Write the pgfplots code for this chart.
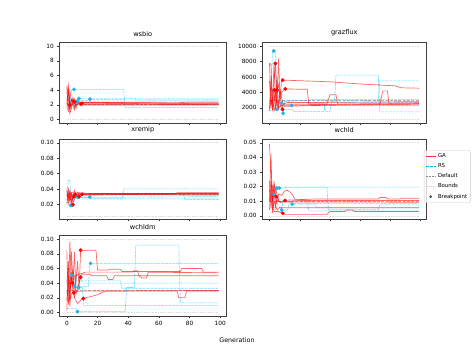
\documentclass[border=0pt]{standalone}
\usepackage{fontspec}
\setmainfont{DejaVu Sans}
\usepackage{pgfplots}
\pgfplotsset{compat=1.18}
\definecolor{rsc}{RGB}{0,191,255}
\definecolor{rsdot}{RGB}{30,180,230}
\pgfplotsset{
  panel/.style={scale only axis, width=167bp, height=80.4bp,
    xmin=-4.95, xmax=103.95, xtick={0,20,40,60,80,100}, xticklabels={},
    scaled ticks=false, tick pos=left, tick align=outside,
    major tick length=2bp, tick style={black!80, line width=0.4bp},
    axis line style={black!75, line width=0.45bp},
    ticklabel style={font=\fontsize{5.8}{6}\selectfont},
    /pgf/number format/assume math mode=true,
    title style={font=\fontsize{6.6}{7}\selectfont, yshift=-3.2bp},
    legend image code/.code={\draw[mark repeat=2,mark phase=2,##1] plot coordinates {(0bp,0bp) (5bp,0bp) (10bp,0bp)};}},
  ga/.style={red, draw opacity=0.6, line width=0.7bp, no markers, forget plot},
  rs/.style={rsc, draw opacity=0.55, line width=0.6bp, no markers, dash pattern=on 3bp off 0.8bp, forget plot},
  dflt/.style={black!45, draw opacity=0.7, line width=0.6bp, no markers, dash pattern=on 3bp off 1.3bp, forget plot},
  bnd/.style={black!13, line width=0.55bp, no markers, dash pattern=on 1bp off 0.6bp, forget plot},
  gabp/.style={only marks, mark=*, mark size=1.7bp, red, mark options={draw=none, fill=red}, forget plot},
  rsbp/.style={only marks, mark=*, mark size=1.7bp, rsdot, mark options={draw=none, fill=rsdot}, forget plot},
}
\begin{document}
\begin{tikzpicture}
% ---------------- wsbio ----------------
\begin{axis}[panel, at={(59.25bp,232bp)}, anchor=south west, title=wsbio,
  ymin=-0.5, ymax=10.5, ytick={0,2,4,6,8,10}, yticklabels={0,2,4,6,8,10}]
\addplot[bnd] coordinates {(0,0) (99,0)};
\addplot[bnd] coordinates {(0,10) (99,10)};
\addplot[dflt] coordinates {(0,2) (99,2)};
\addplot[rs] coordinates {(0,2.0) (2,2.0) (3,4.1) (37,4.1) (38,1.6) (99,1.6)};
\addplot[rs] coordinates {(0,1.2) (1,1.8) (2,2.4) (6,2.4) (7,2.9) (9,2.9) (10,2.8) (99,2.8)};
\addplot[rs] coordinates {(0,2.2) (4,2.2) (5,1.8) (8,2.6) (15,2.6) (16,2.75) (37,2.75) (38,2.9) (44,2.9) (45,2.65) (99,2.65)};
\addplot[rs] coordinates {(0,1.5) (2,1.5) (3,2.0) (7,2.0) (8,2.1) (99,2.1)};
\addplot[rs] coordinates {(0,3.0) (2,3.0) (3,1.5) (5,1.5) (6,2.5) (12,2.5) (13,2.5) (99,2.5)};
\addplot[ga] coordinates {(0,4.6) (1,1.0) (2,3.8) (3,2.6) (4,2.0) (5,2.8) (6,2.3) (8,2.3) (20,2.3) (60,2.25) (80,2.2) (99,2.2)};
\addplot[ga] coordinates {(0,3.5) (1,4.7) (2,1.2) (3,2.2) (4,1.9) (5,1.3) (6,2.5) (7,2.1) (8,2.2) (10,2.0) (40,2.0) (99,2.05)};
\addplot[ga] coordinates {(0,2.5) (1,3.9) (2,1.8) (3,2.7) (5,2.4) (6,1.5) (7,2.5) (9,2.3) (12,2.35) (30,2.3) (70,2.25) (80,2.35) (99,2.35)};
\addplot[ga] coordinates {(0,1.6) (1,2.8) (2,2.2) (4,3.0) (5,1.7) (7,2.1) (10,2.2) (50,2.15) (99,2.1)};
\addplot[ga] coordinates {(0,2.0) (1,4.2) (2,0.8) (3,1.5) (4,2.4) (6,2.0) (10,1.95) (99,1.95)};
\addplot[rsbp] coordinates {(4.6,4.1) (7.9,2.86) (15.1,2.77) (2.6,1.95) (6.8,2.5)};
\addplot[gabp] coordinates {(4.2,2.5) (9.2,2.1) (2,1.95) (5,2.4) (9.9,2.2)};
\end{axis}
% ---------------- grazflux ----------------
\begin{axis}[panel, at={(262bp,232bp)}, anchor=south west, width=164.6bp, title=grazflux,
  ymin=25, ymax=10475, ytick={2000,4000,6000,8000,10000}, yticklabels={2000,4000,6000,8000,10000}]
\addplot[bnd] coordinates {(0,500) (99,500)};
\addplot[bnd] coordinates {(0,10000) (99,10000)};
\addplot[dflt] coordinates {(0,3000) (99,3000)};
\addplot[rs] coordinates {(0,2500) (1,3800) (2,9400) (4,9400) (5,2800) (10,2800) (30,3100) (99,3100)};
\addplot[rs] coordinates {(0,1600) (4,1600) (5,1800) (15,1800) (16,1500) (36,1500) (37,2800) (43,2800) (44,6240) (72,6240) (73,1480) (99,1480)};
\addplot[rs] coordinates {(0,4500) (2,4500) (3,2200) (8,2600) (20,2600) (36,2600) (37,1500) (40,1500) (41,2700) (99,2700)};
\addplot[rs] coordinates {(0,6000) (1,6000) (2,3000) (8,3000) (9,1300) (10,3000) (72,3000) (73,5500) (99,5500)};
\addplot[rs] coordinates {(0,2000) (6,2000) (7,2300) (15,2300) (99,2300)};
\addplot[ga] coordinates {(0,7700) (1,7700) (2,1700) (3,5500) (4,7700) (5,2500) (6,8400) (7,3000) (8,5600) (9,5600) (30,5450) (40,5380) (62,5070) (83,4860) (87,4600) (99,4550)};
\addplot[ga] coordinates {(0,5500) (1,2000) (2,4400) (3,4300) (4,1700) (5,4300) (6,5000) (7,3000) (8,4000) (10,4450) (25,4400) (26,2500) (38,2500) (40,3700) (44,3700) (45,2500) (99,2550)};
\addplot[ga] coordinates {(0,1600) (1,5800) (2,1800) (3,2600) (4,4400) (5,1900) (6,2800) (7,2600) (8,1800) (9,2500) (12,2700) (35,2700) (99,2800)};
\addplot[ga] coordinates {(0,2000) (1,3000) (2,2400) (3,8000) (4,2800) (5,6000) (6,1800) (7,4300) (9,2400) (15,2400) (50,2450) (73,2450) (75,4200) (78,4200) (79,2600) (99,2650)};
\addplot[ga] coordinates {(0,7800) (1,2300) (2,3200) (3,1600) (5,3000) (6,2000) (8,2300) (10,2200) (30,2300) (60,2400) (99,2450)};
\addplot[rsbp] coordinates {(2.8,9400) (5,1800) (8,2600) (9,1300) (14.6,2300)};
\addplot[gabp] coordinates {(3.9,7760) (5,4300) (3.4,4300) (8.8,5590) (10.5,4460) (8.6,1790)};
\end{axis}
% ---------------- xremip ----------------
\begin{axis}[panel, at={(59.25bp,135.5bp)}, anchor=south west, title=xremip,
  ymin=0.00025, ymax=0.10475, ytick={0.02,0.04,0.06,0.08,0.10}, yticklabels={0.02,0.04,0.06,0.08,0.10}]
\addplot[bnd] coordinates {(0,0.005) (99,0.005)};
\addplot[bnd] coordinates {(0,0.1) (99,0.1)};
\addplot[dflt] coordinates {(0,0.033) (99,0.033)};
\addplot[rs] coordinates {(0,0.035) (1,0.051) (2,0.051) (3,0.022) (4,0.019) (5,0.027) (36,0.027) (37,0.040) (99,0.040)};
\addplot[rs] coordinates {(0,0.030) (2,0.030) (3,0.025) (6,0.032) (15,0.030) (16,0.033) (76,0.033) (77,0.026) (99,0.026)};
\addplot[rs] coordinates {(0,0.022) (3,0.022) (4,0.033) (6,0.033) (7,0.029) (20,0.029) (99,0.030)};
\addplot[rs] coordinates {(0,0.040) (1,0.040) (2,0.024) (5,0.024) (6,0.034) (99,0.034)};
\addplot[rs] coordinates {(0,0.026) (4,0.026) (5,0.031) (8,0.029) (14,0.029) (15,0.0296) (16,0.027) (99,0.027)};
\addplot[ga] coordinates {(0,0.039) (1,0.022) (2,0.036) (3,0.030) (4,0.028) (5,0.038) (6,0.030) (8,0.033) (20,0.034) (60,0.034) (99,0.0345)};
\addplot[ga] coordinates {(0,0.025) (1,0.035) (2,0.030) (3,0.020) (4,0.033) (5,0.032) (7,0.036) (9,0.033) (30,0.033) (70,0.0335) (72,0.035) (99,0.035)};
\addplot[ga] coordinates {(0,0.030) (1,0.040) (2,0.026) (3,0.034) (4,0.022) (6,0.034) (8,0.032) (12,0.033) (99,0.033)};
\addplot[ga] coordinates {(0,0.034) (1,0.028) (2,0.038) (3,0.025) (5,0.031) (7,0.029) (10,0.032) (40,0.0325) (99,0.032)};
\addplot[ga] coordinates {(0,0.020) (1,0.032) (2,0.024) (3,0.035) (4,0.036) (6,0.028) (8,0.035) (15,0.034) (99,0.034)};
\addplot[rsbp] coordinates {(3.5,0.019) (6,0.032) (7.5,0.029) (15,0.0296) (2.4,0.0187)};
\addplot[gabp] coordinates {(4.5,0.030) (5.5,0.033) (8,0.030) (10,0.033) (4,0.0196)};
\end{axis}
% ---------------- wchld ----------------
\begin{axis}[panel, at={(262bp,135.5bp)}, anchor=south west, width=164.6bp, title=wchld,
  ymin=-0.0025, ymax=0.0525, ytick={0,0.01,0.02,0.03,0.04,0.05}, yticklabels={0.00,0.01,0.02,0.03,0.04,0.05},
  legend style={at={(0.984,0.535)}, anchor=west, font=\fontsize{5.4}{6}\selectfont,
    draw=black!20, rounded corners=1.5bp, fill=white, fill opacity=0.8, text opacity=1,
    inner sep=1.2bp, row sep=0.6bp, cells={anchor=west}}, legend cell align=left]
\addplot[bnd] coordinates {(0,0) (99,0)};
\addplot[bnd] coordinates {(0,0.05) (99,0.05)};
\addplot[dflt] coordinates {(0,0.010) (99,0.010)};
\addplot[rs] coordinates {(0,0.010) (2,0.010) (3,0.0148) (4,0.0148) (5,0.019) (6,0.0196) (99,0.0196)};
\addplot[rs] coordinates {(0,0.020) (5,0.020) (6,0.019) (10,0.019) (11,0.0196) (38,0.0196) (39,0.0043) (72,0.0043) (73,0.0075) (99,0.0075)};
\addplot[rs] coordinates {(0,0.006) (7,0.006) (8,0.004) (12,0.004) (13,0.0085) (99,0.0085)};
\addplot[rs] coordinates {(0,0.014) (3,0.014) (4,0.010) (14,0.010) (15,0.008) (30,0.008) (31,0.0055) (99,0.0055)};
\addplot[rs] coordinates {(0,0.002) (8,0.002) (9,0.011) (25,0.011) (26,0.0034) (99,0.0034)};
\addplot[ga] coordinates {(0,0.049) (1,0.030) (2,0.004) (3,0.024) (4,0.013) (5,0.008) (6,0.015) (8,0.014) (10,0.017) (12,0.0175) (15,0.015) (17,0.011) (30,0.0115) (72,0.0115) (73,0.0125) (77,0.0125) (78,0.0115) (86,0.0115) (87,0.012) (99,0.012)};
\addplot[ga] coordinates {(0,0.004) (1,0.024) (2,0.010) (3,0.022) (4,0.006) (5,0.013) (7,0.009) (10,0.010) (20,0.0105) (60,0.0105) (99,0.0105)};
\addplot[ga] coordinates {(0,0.018) (1,0.010) (2,0.020) (3,0.012) (4,0.019) (6,0.010) (8,0.0095) (40,0.0095) (99,0.0093)};
\addplot[ga] coordinates {(0,0.010) (1,0.042) (2,0.002) (3,0.010) (5,0.004) (7,0.006) (9,0.0055) (15,0.0055) (99,0.0055)};
\addplot[ga] coordinates {(0,0.024) (1,0.005) (2,0.016) (3,0.003) (6,0.003) (8,0.002) (9,0.001) (38,0.001) (40,0.003) (50,0.003) (51,0.004) (55,0.004) (56,0.003) (99,0.003)};
\addplot[rsbp] coordinates {(2.8,0.0148) (5,0.019) (6.5,0.019) (8,0.004) (15,0.008)};
\addplot[gabp] coordinates {(4.5,0.0132) (8.8,0.0018) (10.3,0.0105)};
\addlegendimage{red, draw opacity=0.8, line width=0.65bp}
\addlegendentry{GA}
\addlegendimage{rsc, line width=0.6bp, dash pattern=on 3bp off 1.2bp}
\addlegendentry{RS}
\addlegendimage{black!45, line width=0.6bp, dash pattern=on 2bp off 1.2bp}
\addlegendentry{Default}
\addlegendimage{black!22, line width=0.55bp, dash pattern=on 0.9bp off 0.9bp}
\addlegendentry{Bounds}
\addlegendimage{only marks, mark=*, mark size=1bp, black!80}
\addlegendentry{Breakpoint}
\end{axis}
% ---------------- wchldm ----------------
\begin{axis}[panel, at={(59.25bp,39bp)}, anchor=south west, title=wchldm,
  xticklabels={0,20,40,60,80,100},
  ymin=-0.005, ymax=0.105, ytick={0,0.02,0.04,0.06,0.08,0.10}, yticklabels={0.00,0.02,0.04,0.06,0.08,0.10}]
\addplot[bnd] coordinates {(0,0) (99,0)};
\addplot[bnd] coordinates {(0,0.1) (99,0.1)};
\addplot[dflt] coordinates {(0,0.03) (99,0.03)};
\addplot[rs] coordinates {(0,0.040) (2,0.040) (3,0.051) (6,0.051) (7,0.035) (14,0.035) (15,0.067) (99,0.067)};
\addplot[rs] coordinates {(0,0.005) (6,0.005) (7,0.001) (38,0.001) (39,0.034) (44,0.034) (45,0.092) (73,0.092) (74,0.013) (99,0.013)};
\addplot[rs] coordinates {(0,0.060) (2,0.060) (3,0.036) (5,0.036) (6,0.050) (9,0.050) (10,0.040) (99,0.040)};
\addplot[rs] coordinates {(0,0.030) (4,0.030) (5,0.036) (7,0.036) (8,0.034) (10,0.034) (11,0.0096) (99,0.0096)};
\addplot[rs] coordinates {(0,0.050) (1,0.050) (2,0.020) (5,0.020) (6,0.043) (35,0.043) (36,0.033) (99,0.033)};
\addplot[ga] coordinates {(0,0.084) (1,0.010) (2,0.097) (3,0.040) (4,0.060) (5,0.020) (6,0.045) (7,0.070) (8,0.030) (9,0.085) (19,0.085) (20,0.058) (27,0.058) (28,0.059) (35,0.059) (36,0.056) (74,0.056) (75,0.060) (88,0.060) (89,0.055) (99,0.055)};
\addplot[ga] coordinates {(0,0.015) (1,0.050) (2,0.008) (3,0.083) (4,0.040) (5,0.083) (6,0.025) (8,0.040) (9,0.048) (10,0.052) (15,0.052) (16,0.050) (26,0.050) (27,0.045) (30,0.045) (31,0.050) (99,0.050)};
\addplot[ga] coordinates {(0,0.040) (1,0.070) (2,0.030) (3,0.050) (4,0.035) (5,0.050) (8,0.052) (12,0.055) (43,0.055) (44,0.057) (46,0.057) (47,0.050) (49,0.047) (52,0.047) (53,0.055) (99,0.054)};
\addplot[ga] coordinates {(0,0.002) (1,0.060) (2,0.016) (3,0.025) (4,0.027) (5,0.020) (7,0.012) (10,0.019) (11,0.019) (20,0.024) (24,0.028) (25,0.029) (72,0.029) (73,0.020) (77,0.020) (78,0.029) (99,0.029)};
\addplot[ga] coordinates {(0,0.030) (1,0.015) (2,0.020) (3,0.055) (4,0.027) (6,0.028) (8,0.029) (99,0.030)};
\addplot[rsbp] coordinates {(3,0.051) (5,0.036) (7.5,0.034) (7,0.001) (15.5,0.067)};
\addplot[gabp] coordinates {(9,0.085) (9,0.048) (10.8,0.019) (4.5,0.027) (3.7,0.040)};
\end{axis}
\node[font=\fontsize{6.3}{7}\selectfont] at (237bp,15bp) {Generation};
\pgfresetboundingbox
\path (0,0) rectangle (474bp,355bp);
\end{tikzpicture}
\end{document}
